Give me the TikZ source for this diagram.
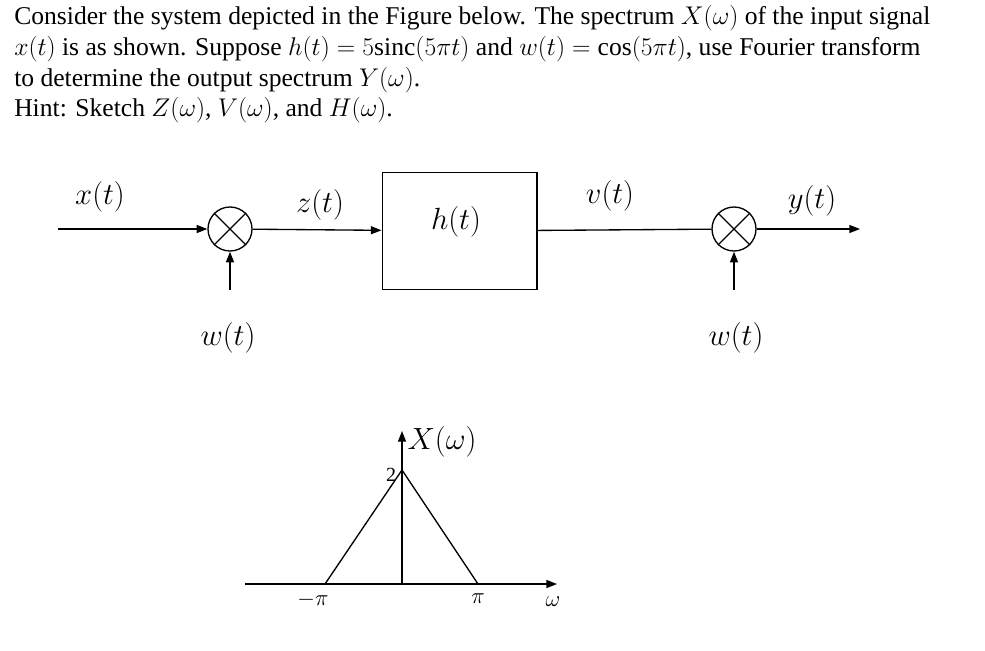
\RequirePackage{fix-cm}
\documentclass[tikz,border=0pt]{standalone}
\usepackage{fontspec}
\setmainfont{Liberation Serif}
\usetikzlibrary{arrows.meta}
\begin{document}
\begin{tikzpicture}[x=0.75pt,y=-0.75pt,
  line/.style={line width=1pt},
  arr/.style={line width=1pt,-{Triangle[length=8pt,width=6pt]}},
  lbl/.style={font=\fontsize{23}{26}\selectfont},
  txt/.style={anchor=west,inner sep=0pt,font=\fontsize{19.2}{22}\selectfont}]
\useasboundingbox (0,0) rectangle (985,650);
\node[txt] (l1) at (14,18) {Consider the system depicted in the Figure below. The spectrum $X(\omega)$ of the input signal};
\node[txt] (l2) at (14,49) {$x(t)$ is as shown. Suppose $h(t)=5\mathrm{sinc}(5\pi t)$ and $w(t)=\cos(5\pi t)$, use Fourier transform};
\node[txt] (l3) at (14,80) {to determine the output spectrum $Y(\omega)$.};
\node[txt] (l4) at (14,110) {Hint: Sketch $Z(\omega)$, $V(\omega)$, and $H(\omega)$.};
% block diagram
\node[circle,draw,line width=1pt,minimum size=33pt] (m1) at (230,229) {};
\draw[line] (m1.north west)--(m1.south east) (m1.north east)--(m1.south west);
\node[circle,draw,line width=1pt,minimum size=33pt] (m2) at (734,229) {};
\draw[line] (m2.north west)--(m2.south east) (m2.north east)--(m2.south west);
\node[draw,line width=1pt,minimum width=116pt,minimum height=88pt] (h) at (459.5,231) {};
\node[lbl] (ht) at (456,222) {$h(t)$};
\coordinate (in) at (58,229);
\coordinate (w1) at (230,290);
\coordinate (w2) at (734,290);
\coordinate (out) at (860,229);
\draw[arr] (in)--(m1);
\draw[arr] (w1)--(m1);
\draw[arr] (m1)--(h);
\draw[line] (h)--(m2);
\draw[arr] (w2)--(m2);
\draw[arr] (m2)--(out);
\node[lbl] (xt) at (100,197) {$x(t)$};
\node[lbl] (zt) at (320,205) {$z(t)$};
\node[lbl] (vt) at (610,196) {$v(t)$};
\node[lbl] (yt) at (812,201) {$y(t)$};
\node[lbl] (wt1) at (228,338) {$w(t)$};
\node[lbl] (wt2) at (736,338) {$w(t)$};
% spectrum
\coordinate (a0) at (245,584);
\coordinate (a1) at (557,584);
\coordinate (o) at (402,584);
\coordinate (top) at (402,431);
\coordinate (pk) at (402,470);
\coordinate (lm) at (325,584);
\coordinate (rm) at (478,584);
\draw[arr] (a0)--(a1);
\draw[arr] (o)--(top);
\draw[line] (lm)--(pk)--(rm);
\node[font=\fontsize{15}{17}\selectfont] (two) at (391,475) {2};
\node[lbl] (Xw) at (442,442) {$X(\omega)$};
\node[font=\fontsize{17}{19}\selectfont] (mpi) at (313,600) {$-\pi$};
\node[font=\fontsize{17}{19}\selectfont] (ppi) at (478,599) {$\pi$};
\node[font=\fontsize{17}{19}\selectfont] (om) at (553,602) {$\omega$};
\end{tikzpicture}
\end{document}
